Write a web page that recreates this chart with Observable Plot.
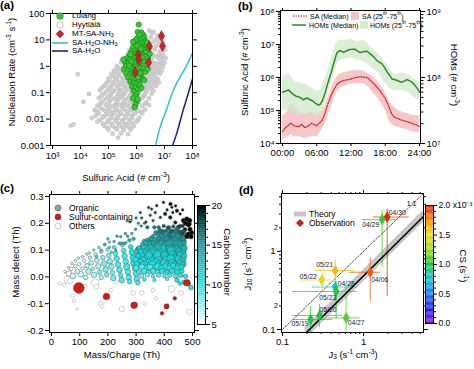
<!DOCTYPE html>
<html>
<head>
<meta charset="utf-8">
<script src="https://cdn.jsdelivr.net/npm/d3@7"></script>
<script src="https://cdn.jsdelivr.net/npm/@observablehq/plot@0.6"></script>
<style>
html,body{margin:0;padding:0;background:#fff;}
#root{position:relative;width:474px;height:369px;overflow:hidden;background:#fff;font-family:"Liberation Sans",Arial,Helvetica,sans-serif;color:#000;}
.p{position:absolute;line-height:0;}
.t{position:absolute;white-space:nowrap;line-height:1;}
.c{transform:translate(-50%,-50%);}
.l{transform:translate(0,-50%);}
.rl{transform:translate(-50%,-50%) rotate(-90deg);}
.rr{transform:translate(-50%,-50%) rotate(90deg);}
.tag{position:absolute;font-weight:bold;font-size:11.5px;line-height:1;}
.sw{position:absolute;line-height:0;}
sup{font-size:70%;vertical-align:super;line-height:0;}
sub{font-size:68%;vertical-align:-0.18em;line-height:0;}
</style>
</head>
<body>
<div id="root"></div>
<script>
// ---------------- DATA ----------------
// (a) Nucleation rate vs sulfuric acid
const aXTicks = [1e3, 1e4, 1e5, 1e6, 1e7, 1e8];
const aYTicks = [0.001, 0.01, 0.1, 1, 10, 100];
const aYTickLabels = ["0.001", "0.01", "0.1", "1", "10", "100"];
const hyytiala = [
[2.8e6,23],[4e6,20],[2e6,15],[3.5e6,17.5],[5.6e6,14.5],
[1.8e6,11],[3.2e6,12.5],[5e6,10],[7e6,11.5],
[1e6,8.2],[2.2e6,7.4],[4e6,8.6],[6.3e6,7.8],[8.9e6,8.1],
[7e5,5.4],[2e6,6.1],[3.2e6,5.1],[5e6,5.9],[8e6,5.3],
[5.6e5,4.1],[1.8e6,4.3],[2.8e6,3.7],[4.5e6,4.2],[7e6,3.8],[1e7,4.1],
[5e5,2.9],[2.2e6,2.35],[3.5e6,2.45],[5.6e6,2.3],[8e6,2.5],
[2e6,2.7],[3.2e6,3],[4e6,2.6],[6.3e6,2.85],[8.9e6,2.7],
[4e5,2.05],[1.8e6,1.85],[2.5e6,2.15],[3.5e6,1.95],[5.6e6,2.1],[8e6,1.85],[1.1e7,2.05],
[2.8e5,1.42],[1.6e6,1.33],[2.5e6,1.48],[4e6,1.38],[5e6,1.28],[7e6,1.5],[1e7,1.36],
[2e6,1.2],[2.8e6,1.12],[4e6,1.24],[5.6e6,1.16],[8e6,1.22],
[2e5,1.02],[3.2e5,0.93],[1.8e6,1.06],[2.2e6,0.94],[3.2e6,1.01],[4.5e6,0.96],[6.3e6,1.04],[8.9e6,0.98],
[2.2e5,0.85],[4e5,0.79],[2e6,0.87],[2.8e6,0.81],[4e6,0.86],[6.3e6,0.82],
[1.6e5,0.7],[2.8e5,0.73],[5e5,0.67],[1.6e6,0.71],[2.5e6,0.74],[3.5e6,0.68],[5e6,0.72],[8e6,0.69],
[1.8e5,0.6],[3.2e5,0.63],[6.3e5,0.57],[1.8e6,0.61],[2.8e6,0.58],[4e6,0.62],[6.3e6,0.59],
[7.9e3,0.5],[1.26e5,0.51],[2.2e5,0.53],[4e5,0.47],[1.26e6,0.5],[2e6,0.52],[3.2e6,0.48],[4.5e6,0.51],[7e6,0.53],
[1.4e5,0.42],[2.5e5,0.44],[4.5e5,0.4],[9e5,0.43],[1.8e6,0.44],[2.8e6,0.4],[4.5e6,0.42],
[1e5,0.35],[1.8e5,0.37],[3.2e5,0.34],[5.6e5,0.36],[1.4e6,0.35],[2.2e6,0.33],[3.5e6,0.37],[5.6e6,0.34],
[1.1e5,0.3],[2e5,0.31],[3.5e5,0.28],[6.3e5,0.3],[1.1e6,0.31],[2e6,0.28],[3.2e6,0.3],[5e6,0.29],
[9e4,0.25],[1.6e5,0.26],[2.5e5,0.24],[4.5e5,0.25],[8e5,0.26],[1.6e6,0.24],[2.5e6,0.25],[4e6,0.26],[6.3e6,0.245],
[8e4,0.21],[1.4e5,0.22],[2.8e5,0.2],[5e5,0.21],[1e6,0.22],[1.8e6,0.2],[2.8e6,0.21],[4.5e6,0.215],
[7e4,0.18],[1.26e5,0.172],[2e5,0.183],[3.5e5,0.187],[6.3e5,0.178],[1.1e6,0.172],[2e6,0.183],[3.2e6,0.188],[5e6,0.178],
[5.6e4,0.15],[1.1e5,0.157],[2.2e5,0.144],[4e5,0.152],[7e5,0.158],[1.26e6,0.143],[2.2e6,0.151],[3.5e6,0.148],
[5e4,0.125],[1e5,0.132],[1.6e5,0.12],[2.8e5,0.127],[5e5,0.133],[9e5,0.12],[1.4e6,0.126],[2.5e6,0.131],[4e6,0.12],
[8e4,0.106],[1.4e5,0.111],[2.5e5,0.101],[4e5,0.107],[7e5,0.112],[1.26e6,0.102],[2.2e6,0.108],
[2e4,0.09],[6.3e4,0.087],[1.26e5,0.093],[2.2e5,0.089],[3.5e5,0.086],[6.3e5,0.091],[1.1e6,0.094],[2e6,0.088],[3.5e6,0.091],
[5.6e4,0.075],[1.1e5,0.079],[2e5,0.072],[3.2e5,0.077],[5.6e5,0.073],[1e6,0.078],[1.8e6,0.074],
[4.5e4,0.063],[9e4,0.066],[1.6e5,0.06],[2.8e5,0.065],[5e5,0.061],[8e5,0.066],[1.6e6,0.062],[2.8e6,0.061],
[7e4,0.053],[1.26e5,0.056],[2.2e5,0.051],[4e5,0.055],[7e5,0.051],[1.26e6,0.055],
[1.26e4,0.045],[5.6e4,0.043],[1.1e5,0.047],[2e5,0.045],[3.5e5,0.043],[6.3e5,0.047],[1.26e6,0.045],[2.2e6,0.043],
[5e4,0.038],[1e5,0.04],[1.8e5,0.036],[3.2e5,0.038],[5.6e5,0.04],[1e6,0.036],[2e6,0.038],
[4e4,0.032],[8e4,0.034],[1.4e5,0.031],[2.5e5,0.033],[4.5e5,0.034],[8e5,0.031],[1.6e6,0.032],[2.8e6,0.034],
[5e4,0.027],[1e5,0.028],[1.8e5,0.026],[3.2e5,0.027],[5.6e5,0.029],[1e6,0.026],
[3.2e4,0.022],[6.3e4,0.023],[1.1e5,0.021],[2e5,0.022],[3.5e5,0.024],[6.3e5,0.022],[1.1e6,0.021],[2e6,0.023],
[4e4,0.019],[8e4,0.0197],[1.4e5,0.0183],[2.5e5,0.019],[4.5e5,0.0198],[8e5,0.0184],[1.4e6,0.019],
[4.5e4,0.016],[9e4,0.0152],[1.6e5,0.0168],[2.8e5,0.016],[5e5,0.0153],[9e5,0.0162],[1.6e6,0.0167],
[3.5e4,0.0133],[7e4,0.0129],[1.26e5,0.0137],[2.2e5,0.0131],[4e5,0.0135],[7e5,0.013],
[2.5e4,0.011],[6.3e4,0.0116],[1.26e5,0.0109],[2.2e5,0.0107],[4e5,0.0113],[7e5,0.011],[1.26e6,0.0114],
[5e4,0.0094],[1e5,0.0091],[1.8e5,0.0097],[3.2e5,0.0092],[5.6e5,0.0096],[1.1e6,0.0092],
[4e4,0.008],[9e4,0.0077],[1.8e5,0.0083],[3.2e5,0.008],[5.6e5,0.0078],[1e6,0.0082],
[6.3e4,0.0067],[1.26e5,0.0065],[2.2e5,0.0069],[4e5,0.0066],[7e5,0.0068],
[4.5e3,0.0056],[5.6e3,0.0063],[7e4,0.0056],[1.4e5,0.0054],[2.5e5,0.0058],[4.5e5,0.0056],[8e5,0.0054],
[9e4,0.0047],[1.8e5,0.0046],[3.2e5,0.0048],[5.6e5,0.0047],
[1e5,0.004],[2e5,0.0041],[3.5e5,0.0039],[6.3e5,0.004],
[1.4e5,0.0028],[2.8e5,0.0029],[5e5,0.0027],[2.2e5,0.002]
];
const lulang = [
[1.2e6,38],[1.5e6,19],[1.7e6,16],[1.1e6,20],[1.35e6,14],[1.9e6,12.5],[1.6e6,11],[1.1e6,12],[1.3e6,9.5],[1e6,9],
[2.1e6,9],[1.8e6,8],[1.5e6,7.5],[1.2e6,7],[8.5e5,7.2],[2.3e6,6.5],[1.95e6,5.5],[1.6e6,5.2],[1.3e6,5.6],[1e6,5],
[7.5e5,5],[9e5,4],[1.2e6,4.2],[1.5e6,3.8],[1.8e6,4.3],[2.2e6,3.5],[6.5e5,3.6],[8e5,3],[1.1e6,3.1],[1.4e6,2.8],
[1.7e6,2.6],[5.5e5,2.5],[7e5,2.4],[9.5e5,2.2],[1.3e6,2.1],[2e6,2.3],[4.5e5,2],[6e5,1.8],[8e5,1.7],[1.1e6,1.6],
[1.5e6,1.7],[1.85e6,1.5],[4e5,1.4],[5.2e5,1.3],[7e5,1.2],[9e5,1.3],[1.2e6,1.2],[2.3e6,1.1],[4.2e5,1],[6e5,0.95],
[8e5,0.9],[1e6,1],[1.4e6,0.9],[1.7e6,0.85],[3.6e5,0.75],[5e5,0.7],[7e5,0.75],[9e5,0.7],[1.2e6,0.65],[1.6e6,0.6],
[2.1e6,0.62],[4.3e5,0.55],[6e5,0.5],[8e5,0.52],[1.1e6,0.45],[1.4e6,0.42],[5e5,0.38],[7e5,0.35],[9e5,0.32],[1.2e6,0.3],
[1.7e6,0.33],[6e5,0.26],[8e5,0.24],[1e6,0.22],[1.3e6,0.2],[7e5,0.17],[9e5,0.15],[1.1e6,0.13],[8e5,0.11],[1e6,0.09],
[9e5,0.072],[7.5e5,0.062],[1e6,0.045],[9e5,0.035],[8.5e5,0.028],[1.1e6,0.058],[1.25e6,0.9],[2.6e6,2],[2.5e6,0.8],[1.9e6,0.3],
[1.5e6,0.15],[3.4e5,1.8],[1.3e6,16],[9.5e5,10],[7.5e5,8.5],[1.05e6,6],[1.4e6,4.6],[6e5,2.9],[1.55e6,2.2],[1.25e6,1.45],
[6.5e5,1.5],[1.05e6,0.8],[1.35e6,0.55],[7.5e5,0.6],[1.15e6,0.38],[5.5e5,1.05],[3e6,3],[2.7e6,4.8],[2.4e6,8]
];
const mtSaNh3 = [[7.8e6,14],[2.9e6,5.8],[8.5e6,5.8],[1.15e6,2.7],[1.2e6,1.8],[2.7e6,1.4],[9e5,0.6]];
const saH2oNh3 = [[4.8e6,0.001],[5.3e6,0.0016],[7e6,0.005],[1.1e7,0.018],[1.6e7,0.06],[2.5e7,0.19],[3.5e7,0.38],[4.8e7,0.65],[7e7,1.4],[1e8,3.2]];
const saH2o = [[1.95e7,0.001],[3e7,0.004],[4.4e7,0.018],[6.5e7,0.07],[1e8,0.33]];

// (b) diurnal cycles
const bXTicks = [0, 6, 12, 18, 24];
const bSATicks = [1e4, 1e5, 1e6, 1e7, 1e8];
const bHomTicks = [1e7, 1e8, 1e9];
const bHomMinorLabeled = [2e7, 4e7, 6e7, 8e7, 2e8, 4e8, 6e8, 8e8];
const bHomMinorOther = [3e7, 5e7, 7e7, 9e7, 3e8, 5e8, 7e8, 9e8];
const saHours = [0,0.5,1,1.4,1.9,2.4,2.8,3.4,3.8,4.3,4.7,5.1,5.6,6.0,6.6,7.0,7.5,8.0,8.5,9.0,9.5,10.0,10.5,11.0,11.9,12.7,13.6,14.3,14.8,15.2,15.65,16.1,16.5,17.0,17.4,17.9,18.3,18.8,19.2,19.6,20.0,20.5,20.9,21.4,21.8,22.3,22.7,23.1,23.5,24];
const saMedian = [2.3e4,3.0e4,3.5e4,4.1e4,3.6e4,3.3e4,3.2e4,3.8e4,3.1e4,3.2e4,3.6e4,4.1e4,3.7e4,3.5e4,4.4e4,5.2e4,8.9e4,1.66e5,2.8e5,4.3e5,6.0e5,7.2e5,7.9e5,8.3e5,8.9e5,9.8e5,1.05e6,1.02e6,1.0e6,8.9e5,7.4e5,6.3e5,5.2e5,4.2e5,3.3e5,2.5e5,1.8e5,1.12e5,7.6e4,6.3e4,5.8e4,5.4e4,5.1e4,4.8e4,4.6e4,4.3e4,4.1e4,3.8e4,3.6e4,3.3e4];
const bandHours = [0,1,1.5,2,3,4,5,6,6.5,7,7.5,8,8.5,9,9.5,10,11,12,13,14,15,16,17,18,19,20,21,22,23,24];
const saP25 = [1.26e4,1.6e4,1.8e4,1.6e4,1.6e4,1.4e4,1.6e4,1.6e4,2e4,2.8e4,4e4,7e4,1.26e5,2.2e5,3.5e5,4.5e5,5.6e5,6.3e5,6.6e5,6.6e5,5.2e5,3.2e5,2e5,1e5,4e4,3.2e4,2.8e4,2.5e4,2.2e4,2.2e4];
const saP75 = [7e4,1e5,1.6e5,1.4e5,8.9e4,8e4,8.9e4,8e4,8.9e4,1e5,1.4e5,2.5e5,4.5e5,7e5,1e6,1.26e6,1.4e6,1.6e6,1.66e6,1.6e6,1.3e6,1e6,6.3e5,3.5e5,1.6e5,1.1e5,8.9e4,8e4,7e4,7e4];
const homHours = [0,0.5,1.05,1.5,1.93,2.4,2.8,3.2,3.68,4.26,4.85,5.3,5.72,6.31,6.7,7.0,7.5,8.0,8.5,9.0,9.5,10.1,10.7,11.6,12.2,12.7,13.2,13.6,14.2,14.8,15.2,15.65,16.1,16.5,17.0,17.4,17.9,18.3,18.8,19.2,20.0,20.5,20.9,21.4,21.8,22.3,22.7,23.2,23.8,24];
const homMedian = [6.0e7,6.2e7,6.5e7,5.9e7,5.5e7,5.2e7,5.1e7,4.9e7,4.6e7,4.9e7,4.6e7,4.4e7,4.1e7,3.8e7,4.0e7,4.5e7,6.0e7,8.5e7,1.17e8,1.66e8,2.34e8,2.57e8,2.4e8,2.63e8,2.69e8,2.69e8,2.5e8,2.4e8,2.45e8,2.5e8,2.34e8,2.19e8,2.0e8,1.82e8,1.7e8,1.62e8,1.41e8,1.23e8,1.07e8,9.5e7,9.1e7,8.7e7,8.5e7,8.9e7,9.3e7,8.9e7,8.5e7,7.6e7,6.5e7,6.0e7];
const homP25 = [3.2e7,3.2e7,3e7,2.8e7,2.6e7,2.8e7,2.8e7,2.5e7,2.6e7,2.95e7,4e7,5.6e7,7.9e7,1.12e8,1.5e8,1.78e8,1.9e8,2e8,1.82e8,1.78e8,1.58e8,1.32e8,1.12e8,8.3e7,6.6e7,6.3e7,6.3e7,6e7,5e7,4.5e7];
const homP75 = [1e8,1.12e8,1.05e8,8.9e7,8.3e7,7.9e7,7.1e7,6.3e7,6.3e7,7.6e7,1e8,1.32e8,1.86e8,2.63e8,3.4e8,3.7e8,3.7e8,3.8e8,3.5e8,3.6e8,3.2e8,2.6e8,2.2e8,1.7e8,1.26e8,1.12e8,1.17e8,1.12e8,9.5e7,8.3e7];

// (c) mass defect plot: [m/z, mass defect, carbon number, intensity]
const cXTicks = [0, 100, 200, 300, 400, 500];
const cYTicks = [-0.2, -0.1, 0, 0.1, 0.2, 0.3];
const cBarTicks = [5, 10, 15, 20];
const organic = [
[62,0.012,5,4],[70,0.03,5,2],[76,0.004,6,4],[84,0.04,6,2],[92,0.02,6,3],[99,0.048,6,2],[104,0.01,6,4],[110,0.032,6,2],[116,0.06,6,2],[121,-0.002,6,3],
[126,0.042,7,3],[131,0.02,7,4],[136,0.072,7,2],[141,0.052,7,3],[146,0.03,7,2],[151,0.008,7,4],[156,0.084,7,2],[161,0.062,7,3],[166,0.04,7,4],[171,0.018,8,3],
[176,-0.002,7,3],[177,0.094,8,2],[182,0.072,8,3],[187,0.05,8,4],[192,0.028,8,4],[196,0.008,8,3],[199,0.102,8,2],[203,0.08,8,3],[207,0.058,8,4],[212,0.038,8,4],
[216,0.016,8,3],[219,-0.004,8,4],[222,0.11,9,2],[227,0.088,9,3],[231,0.068,9,4],[236,0.046,9,4],[241,0.026,9,4],[245,0.006,9,3],[249,-0.012,9,4],[252,0.118,9,2],
[256,0.098,9,3],[259,0.078,9,4],[263,0.058,9,4],[267,0.038,9,5],[271,0.018,9,4],[274,-0.002,9,4],[277,-0.018,9,3],[281,0.112,10,3],[285,0.092,10,4],[288,0.072,10,4],
[292,0.052,10,5],[296,0.032,9,4],[299,0.012,9,4],[302,-0.008,9,4],[306,-0.022,9,3],
[85,0.06,6,1],[110,0.075,7,1],[135,0.09,7,1],[150,0.1,8,1],[168,0.11,8,1],[188,0.12,9,1],[205,0.13,9,1],[95,0.07,6,1],[125,0.085,7,1],[60,0.035,5,1],[72,0.05,6,1],[48,0.02,5,1],
[160,0.075,10,1],[176,0.1,10,1],[190,0.122,11,1],[200,0.142,11,1],[212,0.092,10,1],[222,0.132,12,1],[232,0.152,12,1],[240,0.125,12,1],[246,0.125,12,1],[252,0.126,12,1],
[258,0.125,12,1],[264,0.127,12,1],[270,0.152,13,1],[276,0.137,13,2],[285,0.162,13,1],[291,0.142,13,2],[262,0.162,14,1],[268,0.21,15,1],[278,0.205,15,1],[298,0.178,14,1],
[308,0.2,15,1],[318,0.19,15,1],[300,0.22,16,1],[315,0.24,17,1],[330,0.2,16,1],[245,0.15,13,1],[228,0.1,11,1],[205,0.11,10,1],
[380,0.185,16,2],[398,0.19,17,2],[415,0.183,17,3],[432,0.188,17,2],[450,0.185,17,3],[465,0.19,18,2],
[395,0.168,16,3],[409,0.174,16,2],[427,0.17,17,3],[444,0.176,16,3],[459,0.168,17,2],[470,0.172,16,3],
[370,0.165,15,3],[386,0.17,16,4],[402,0.167,16,3],[423,0.162,16,4],[438,0.167,16,3],[455,0.163,16,4],[468,0.16,16,3],
[360,0.152,15,2],[377,0.158,15,3],[391,0.154,15,4],[404,0.16,15,3],[418,0.153,16,4],[432,0.158,15,3],[447,0.152,15,4],[461,0.157,16,3],
[340,0.138,14,2],[352,0.143,14,3],[366,0.137,14,4],[380,0.142,15,3],[395,0.139,14,5],[409,0.143,15,4],[424,0.137,14,5],[438,0.142,15,4],[452,0.138,15,5],[466,0.143,15,3],
[330,0.133,13,3],[345,0.131,14,4],[358,0.135,14,5],[372,0.132,14,6],[386,0.135,14,5],[400,0.131,14,6],[414,0.134,14,6],[428,0.131,14,5],[442,0.135,15,6],[455,0.131,15,5],[468,0.134,15,4],
[322,0.123,13,2],[335,0.128,13,3],[348,0.122,13,4],[362,0.127,14,3],[375,0.124,13,5],[388,0.128,14,4],[402,0.121,13,6],[415,0.127,14,5],[430,0.123,14,6],[444,0.128,14,5],[457,0.122,14,4],[470,0.126,14,3],
[310,0.108,12,3],[324,0.113,12,4],[338,0.107,12,5],[351,0.112,13,4],[365,0.108,12,6],[378,0.113,13,5],[392,0.107,12,6],[405,0.112,13,7],[419,0.108,13,6],[433,0.113,13,7],[447,0.107,13,5],[461,0.112,13,5],[472,0.108,13,4],
[307,0.101,12,4],[321,0.104,12,5],[335,0.1,12,6],[349,0.103,12,7],[363,0.1,12,6],[377,0.104,12,8],[390,0.1,12,7],[404,0.103,12,8],[418,0.1,13,7],[431,0.104,13,8],[445,0.1,13,6],[459,0.103,13,6],
[300,0.094,12,3],[314,0.098,11,4],[328,0.092,12,5],[342,0.097,11,6],[356,0.093,12,5],[370,0.098,11,7],[383,0.092,12,6],[397,0.097,12,7],[410,0.093,12,8],[424,0.098,12,6],[438,0.093,12,7],[452,0.097,13,5],[466,0.093,13,5],
[305,0.078,11,4],[318,0.083,11,5],[332,0.077,11,6],[346,0.082,11,5],[360,0.078,11,7],[374,0.083,11,6],[388,0.077,11,7],[401,0.082,12,6],[415,0.078,12,7],[429,0.083,12,6],[443,0.077,12,6],[457,0.082,12,5],[470,0.078,12,4],
[304,0.071,11,5],[318,0.073,11,6],[331,0.07,11,7],[345,0.074,11,7],[359,0.07,11,8],[373,0.073,11,7],[386,0.07,11,8],[400,0.074,11,7],[414,0.07,11,8],[428,0.073,12,7],[442,0.07,12,6],[456,0.073,12,6],
[298,0.063,10,4],[311,0.068,10,5],[325,0.062,11,5],[339,0.067,10,6],[352,0.063,11,6],[366,0.068,10,7],[380,0.062,11,6],[394,0.067,11,7],[408,0.063,11,6],[422,0.068,11,6],[436,0.062,11,7],[450,0.067,11,5],[464,0.063,12,5],
[303,0.048,10,4],[316,0.053,10,5],[330,0.047,10,5],[344,0.052,10,6],[357,0.048,10,5],[371,0.053,10,6],[385,0.047,10,6],[399,0.052,10,5],[413,0.048,11,6],[427,0.053,11,5],[441,0.047,11,5],[455,0.052,11,4],[468,0.048,11,4],
[309,0.042,10,5],[323,0.044,10,5],[338,0.041,10,6],[352,0.044,10,6],[366,0.041,10,6],[380,0.044,10,6],[394,0.041,10,6],[408,0.044,10,5],[422,0.041,10,5],[436,0.044,11,5],[450,0.041,11,4],[464,0.044,11,4],
[300,0.033,9,4],[320,0.038,9,4],[335,0.032,10,5],[349,0.037,9,4],[362,0.033,10,5],[376,0.038,10,5],[390,0.032,10,4],[404,0.037,10,5],[418,0.033,10,4],[432,0.038,10,5],[446,0.032,10,4],[460,0.037,11,4],
[310,0.018,9,3],[328,0.022,9,4],[345,0.017,9,3],[360,0.022,9,4],[375,0.018,9,3],[392,0.022,10,4],[410,0.017,10,3],[428,0.022,10,4],[445,0.018,10,3],[462,0.021,10,3],
[320,0.004,8,3],[340,0.008,8,3],[360,0.003,9,2],[380,0.007,9,3],[400,0.003,9,2],[420,0.007,9,3],[440,0.003,9,3],[458,0.006,10,3],[475,0.002,10,3],
[330,-0.01,9,2],[365,-0.012,9,2],[410,-0.008,9,2],[445,-0.012,10,3],[470,-0.02,10,3],[485,-0.025,11,3],[495,-0.04,10,3],[455,-0.025,10,2],
[344,0.259,18,1],[355,0.253,18,1],[368,0.24,18,1],[373,0.266,19,1],[386,0.222,18,1],[397,0.278,19,1],[403,0.235,19,2],[421,0.222,19,2],[422,0.272,20,2],[427,0.26,19,1],
[439,0.203,19,2],[445,0.247,20,2],[456,0.235,20,1],[456,0.19,18,2],[468,0.21,20,3],[474,0.178,19,2],[480,0.216,20,3],[486,0.197,20,4],[491,0.178,20,3],[462,0.165,18,3],
[486,0.16,20,3],[497,0.165,20,3],[480,0.153,20,4],[495,0.15,20,3],[490,0.21,20,3],[475,0.2,20,3],[430,0.24,19,1],[410,0.25,19,1],[350,0.23,17,1],[360,0.21,17,1],
[335,0.205,17,1],[320,0.22,17,1],[340,0.185,16,2],[365,0.185,16,2],[440,0.265,20,1],[465,0.25,20,1]
];
const sulfur = [[97,-0.041,9],[195,-0.073,5],[293,-0.106,5],[480,-0.022,5],[408,-0.11,3.5],[437,-0.08,2],[392,-0.136,2]];
const others = [[30,-0.025,2],[58,-0.01,6],[66,-0.016,4],[75,-0.07,2],[80,-0.09,2],[100,-0.06,1],[155,-0.022,6],[160,-0.036,3],[175,-0.1,3],[180,-0.11,2],
[210,-0.05,2],[250,-0.12,4],[290,-0.06,3],[300,-0.1,2],[320,-0.06,3],[330,-0.1,2],[360,-0.05,2],[370,-0.08,2],[425,-0.045,5],[460,-0.06,3],[490,-0.13,4],[230,-0.02,2],[120,-0.035,2],[90,-0.12,1],[45,-0.03,2]];

// (d) J10 vs J3
const dMajorTicks = [0.1, 1];
const dXMinorLabeled = [0.2, 0.3, 0.4, 0.5, 0.6, 2, 3, 4, 5];
const dXMinorOther = [0.7, 0.8, 0.9];
const dYMinorLabeled = [0.2, 0.4, 0.6, 0.8, 2, 4];
const dYMinorOther = [0.3, 0.5, 0.7, 0.9, 3, 5];
const dBarTicks = [0, 0.5, 1, 1.5, 2];
const obsDate = ["04/30","04/29","04/06","05/21","05/22","04/28","05/23","05/20","05/19","04/27"];
const obsJ3   = [1.96, 1.70, 1.21, 0.447, 0.306, 0.447, 0.46, 0.286, 0.222, 0.61];
const obsJ3Lo = [1.3, 0.95, 0.67, 0.25, 0.16, 0.23, 0.13, 0.13, 0.13, 0.31];
const obsJ3Hi = [3.6, 2.5, 1.6, 0.77, 0.41, 0.84, 0.82, 0.55, 0.41, 0.89];
const obsJ10   = [2.75, 2.55, 0.54, 0.57, 0.43, 0.35, 0.307, 0.151, 0.134, 0.141];
const obsJ10Lo = [0.27, 0.64, 0.23, 0.4, 0.32, 0.235, 0.14, 0.107, 0.09, 0.09];
const obsJ10Hi = [3.5, 3.4, 0.84, 0.81, 0.54, 0.42, 0.42, 0.214, 0.2, 0.35];
const obsCS    = [1.95, 1.05, 1.85, 1.6, 1.45, 0.8, 1.0, 1.0, 1.0, 1.1]; // x10^-3 s^-1
const theoryJ3 = [0.19, 5.5];
const theoryJ10 = [0.088, 2.8];
const theoryLo = [0.074, 2.35];
const theoryHi = [0.105, 3.35];
const oneToOne = [0.1, 5.5];

// ---------------- HELPERS ----------------
const root = document.getElementById("root");
const FONT = '"Liberation Sans", Arial, Helvetica, sans-serif';
const STYLE = {fontFamily: FONT, fontSize: "9px", background: "transparent", overflow: "visible", color: "#000"};
const SUP = {"-":"⁻","0":"⁰","1":"¹","2":"²","3":"³","4":"⁴","5":"⁵","6":"⁶","7":"⁷","8":"⁸","9":"⁹"};
const pow10 = d => "10" + String(Math.round(Math.log10(d))).split("").map(c => SUP[c]).join("");
function logMinor(lo, hi) {
  const out = [];
  for (let p = Math.log10(lo); p < Math.log10(hi) - 1e-9; p++) for (let m = 2; m <= 9; m++) out.push(m * Math.pow(10, p));
  return out;
}
function mount(node, left, top) {
  const d = document.createElement("div");
  d.className = "p"; d.style.left = left + "px"; d.style.top = top + "px";
  d.appendChild(node); root.appendChild(d);
}
function text(html, x, y, cls, size) {
  const d = document.createElement("div");
  d.className = "t " + cls; d.innerHTML = html;
  d.style.left = x + "px"; d.style.top = y + "px"; d.style.fontSize = size + "px";
  root.appendChild(d); return d;
}
function swatch(inner, cx, cy, w = 16, h = 10) {
  const d = document.createElement("div");
  d.className = "sw"; d.style.left = (cx - w / 2) + "px"; d.style.top = (cy - h / 2) + "px";
  d.innerHTML = `<svg width="${w}" height="${h}" viewBox="0 0 ${w} ${h}">${inner}</svg>`;
  root.appendChild(d);
}
function tag(s, x, y) {
  const d = document.createElement("div");
  d.className = "tag"; d.textContent = s; d.style.left = x + "px"; d.style.top = y + "px";
  root.appendChild(d);
}
const X = d => d[0], Y = d => d[1];

// ---------------- PANEL (a) ----------------
const pA = Plot.plot({
  width: 237, height: 185, marginLeft: 50, marginRight: 45, marginTop: 13, marginBottom: 40,
  style: STYLE,
  x: {type: "log", domain: [1e3, 1e8], insetLeft: 2},
  y: {type: "log", domain: [1e-3, 1e2]},
  marks: [
    Plot.dot(hyytiala, {x: X, y: Y, r: 2.1, fill: "#d0d0d0", stroke: "#b8b8b8", strokeWidth: 0.5}),
    Plot.line(saH2oNh3, {x: X, y: Y, stroke: "#2fc4c4", strokeWidth: 1.5, curve: "monotone-x"}),
    Plot.line(saH2o, {x: X, y: Y, stroke: "#1d1d8c", strokeWidth: 1.5, curve: "monotone-x"}),
    Plot.dot(lulang, {x: X, y: Y, r: 2.7, fill: "#35c935", stroke: "#1b7d1b", strokeWidth: 0.6}),
    Plot.dot(mtSaNh3, {x: X, y: Y, symbol: "diamond", r: 3.3, fill: "#c1272d", stroke: "#8e1b1f", strokeWidth: 0.5}),
    Plot.frame({stroke: "#000"}),
    Plot.axisX(aXTicks, {anchor: "bottom", tickSize: 4, tickPadding: 3, tickFormat: pow10, fontSize: 9.5, label: null}),
    Plot.axisX(aXTicks, {anchor: "top", tickSize: 4, fill: "none", label: null}),
    Plot.axisY(aYTicks, {anchor: "left", tickSize: 4, tickPadding: 2, tickFormat: d => aYTickLabels[aYTicks.indexOf(d)], fontSize: 9.5, label: null}),
    Plot.axisY(aYTicks, {anchor: "right", tickSize: 4, fill: "none", label: null})
  ]
});
mount(pA, 0, 0);

// ---------------- PANEL (b) ----------------
const saMed = saHours.map((h, i) => ({h, v: saMedian[i]}));
const saBand = bandHours.map((h, i) => ({h, lo: saP25[i], hi: saP75[i]}));
const homMed = homHours.map((h, i) => ({h, v: homMedian[i]}));
const homBand = bandHours.map((h, i) => ({h, lo: homP25[i], hi: homP75[i]}));
const bDims = {width: 237, height: 185, marginLeft: 43, marginRight: 54, marginTop: 10, marginBottom: 42, style: STYLE};
const pB1 = Plot.plot({
  ...bDims,
  x: {domain: [0, 24], insetLeft: 2, insetRight: 1},
  y: {type: "log", domain: [1e4, 1e8], insetTop: 1},
  marks: [
    Plot.areaY(saBand, {x: "h", y1: "lo", y2: "hi", fill: "#f6c2c2", fillOpacity: 0.9, curve: "monotone-x"}),
    Plot.line(saMed, {x: "h", y: "v", stroke: "#d2232a", strokeWidth: 1.3, strokeDasharray: "1.2,1.4"}),
    Plot.frame({stroke: "#000"}),
    Plot.axisX(bXTicks, {anchor: "bottom", tickSize: 3, tickPadding: 3, tickFormat: d => String(d).padStart(2, "0") + ":00", fontSize: 9.5, label: null}),
    Plot.axisX(bXTicks, {anchor: "top", tickSize: 3, fill: "none", label: null}),
    Plot.axisY(bSATicks, {anchor: "left", tickSize: 4, tickPadding: 2, tickFormat: pow10, fontSize: 9.5, label: null}),
    Plot.axisY(logMinor(1e4, 1e8), {anchor: "left", tickSize: 2, fill: "none", label: null})
  ]
});
mount(pB1, 237, 0);
const pB2 = Plot.plot({
  ...bDims,
  x: {domain: [0, 24], insetLeft: 2, insetRight: 1, axis: null},
  y: {type: "log", domain: [1e7, 1e9], insetTop: 1},
  marks: [
    Plot.areaY(homBand, {x: "h", y1: "lo", y2: "hi", fill: "#cde8c6", fillOpacity: 0.72, curve: "monotone-x"}),
    Plot.line(homMed, {x: "h", y: "v", stroke: "#2b8a2b", strokeWidth: 1.5}),
    Plot.axisY(bHomTicks, {anchor: "right", tickSize: 4, tickPadding: 2, tickFormat: pow10, fontSize: 9.5, label: null}),
    Plot.axisY(bHomMinorLabeled, {anchor: "right", tickSize: 2.5, tickPadding: 1.5, tickFormat: d => String(Math.round(d / Math.pow(10, Math.floor(Math.log10(d))))), fontSize: 7, label: null}),
    Plot.axisY(bHomMinorOther, {anchor: "right", tickSize: 2.5, fill: "none", label: null})
  ]
});
mount(pB2, 237, 0);

// ---------------- PANEL (c) ----------------
const cColor = {type: "linear", domain: [5, 10, 15, 20], range: ["#ffffff", "#1ae6e6", "#189a9a", "#000000"]};
const rScale = {type: "linear", domain: [1, 8], range: [1.3, 4.8]};
const pC = Plot.plot({
  width: 200, height: 189, marginLeft: 49, marginRight: 6, marginTop: 14, marginBottom: 37,
  style: STYLE,
  x: {domain: [0, 500], inset: 2},
  y: {domain: [-0.2, 0.3], inset: 2},
  color: cColor, r: rScale,
  marks: [
    Plot.dot(others, {x: X, y: Y, r: d => d[2], fill: "#ffffff", stroke: "#c4c4c4", strokeWidth: 0.8}),
    Plot.dot(organic, {x: X, y: Y, r: d => d[3], fill: d => d[2], stroke: "#4e4e4e", strokeOpacity: 0.85, strokeWidth: 0.55}),
    Plot.dot(sulfur, {x: X, y: Y, r: d => d[2], fill: "#c81e1e", stroke: "#8a1010", strokeWidth: 0.5}),
    Plot.frame({stroke: "#000"}),
    Plot.axisX(cXTicks, {anchor: "bottom", tickSize: 4, tickPadding: 2, fontSize: 9.5, label: null}),
    Plot.axisX(cXTicks, {anchor: "top", tickSize: 4, fill: "none", label: null}),
    Plot.axisY(cYTicks, {anchor: "left", tickSize: 4, tickPadding: 2, tickFormat: d => d.toFixed(1), fontSize: 9.5, label: null}),
    Plot.axisY(cYTicks, {anchor: "right", tickSize: 4, fill: "none", label: null})
  ]
});
mount(pC, 0, 180);

const cRamp = d3.range(5, 20, 0.25);
const pCBar = Plot.plot({
  width: 45, height: 140, marginLeft: 7, marginRight: 30, marginTop: 10, marginBottom: 11,
  style: STYLE,
  y: {domain: [5, 20]},
  color: cColor,
  marks: [
    Plot.rect(cRamp, {y1: d => d, y2: d => d + 0.25, fill: d => d}),
    Plot.frame({stroke: "#000"}),
    Plot.axisY(cBarTicks, {anchor: "right", tickSize: 4, tickPadding: 2, fontSize: 9.5, label: null}),
    Plot.axisY(d3.range(6, 20).filter(v => v % 5), {anchor: "right", tickSize: 2, fill: "none", label: null})
  ]
});
mount(pCBar, 190, 195);

// ---------------- PANEL (d) ----------------
const dColor = {type: "linear", domain: [0, 0.25, 0.5, 0.75, 1, 1.25, 1.5, 1.75, 2],
  range: ["#7418d8", "#2020f0", "#1a7ef0", "#10c4d8", "#22c43c", "#a4dc1c", "#eedc10", "#ff8a00", "#e01010"]};
const obs = obsDate.map((date, i) => ({date, j3: obsJ3[i], lo3: obsJ3Lo[i], hi3: obsJ3Hi[i], j10: obsJ10[i], lo10: obsJ10Lo[i], hi10: obsJ10Hi[i], cs: obsCS[i]}));
const theory = theoryJ3.map((j3, i) => ({j3, j10: theoryJ10[i], lo: theoryLo[i], hi: theoryHi[i]}));
const diag = oneToOne.map(v => ({v}));
const place = {
  "04/30": ["start", 1.5, -4.5], "04/29": ["end", -3, 5], "04/06": ["start", 1, 7.5], "05/21": ["end", -2, -5.5],
  "05/22": ["end", -5, -3], "04/28": ["start", 2.5, -3.5], "05/23": ["end", 0, 6], "05/20": ["start", 0, -6],
  "05/19": ["end", -2, 4.5], "04/27": ["start", 1.5, 5]
};
const minorFmt = d => d < 1 ? String(Math.round(d * 10)) : String(d);
const pD = Plot.plot({
  width: 190, height: 189, marginLeft: 44, marginRight: 4, marginTop: 13, marginBottom: 37,
  style: STYLE,
  x: {type: "log", domain: [0.1, 5.5], insetLeft: 1},
  y: {type: "log", domain: [0.1, 5.5], insetBottom: 3},
  color: dColor,
  marks: [
    Plot.areaY(theory, {x: "j3", y1: "lo", y2: "hi", fill: "#c6c6c6", clip: true}),
    Plot.line(diag, {x: "v", y: "v", stroke: "#000", strokeWidth: 0.7, strokeDasharray: "2,1.6", clip: true}),
    Plot.link(obs, {x1: "lo3", x2: "hi3", y1: "j10", y2: "j10", stroke: "cs", strokeWidth: 1.1, strokeOpacity: 0.7, clip: true}),
    Plot.link(obs, {x1: "j3", x2: "j3", y1: "lo10", y2: "hi10", stroke: "cs", strokeWidth: 1.1, strokeOpacity: 0.7, clip: true}),
    Plot.line(theory, {x: "j3", y: "j10", stroke: "#000", strokeWidth: 1.5, clip: true}),
    Plot.dot(obs, {x: "j3", y: "j10", fill: "cs", symbol: "diamond", r: 3.6}),
    ...obs.map(o => Plot.text([o], {x: "j3", y: "j10", text: "date", textAnchor: place[o.date][0], dx: place[o.date][1], dy: place[o.date][2], fontSize: 6.8, fill: "#222"})),
    Plot.text(["1:1"], {frameAnchor: "top-right", dx: -7, dy: 8, fontSize: 7}),
    Plot.frame({stroke: "#000"}),
    Plot.axisX(dMajorTicks, {anchor: "bottom", tickSize: 4, tickPadding: 2, tickFormat: d => String(d), fontSize: 9.5, label: null}),
    Plot.axisX(dXMinorLabeled, {anchor: "bottom", tickSize: 2, tickPadding: 1.5, tickFormat: minorFmt, fontSize: 7, label: null}),
    Plot.axisX(dXMinorOther, {anchor: "bottom", tickSize: 2, fill: "none", label: null}),
    Plot.axisX(dMajorTicks, {anchor: "top", tickSize: 4, fill: "none", label: null}),
    Plot.axisX([...dXMinorLabeled, ...dXMinorOther], {anchor: "top", tickSize: 2, fill: "none", label: null}),
    Plot.axisY(dMajorTicks, {anchor: "left", tickSize: 4, tickPadding: 2, tickFormat: d => String(d), fontSize: 9.5, label: null}),
    Plot.axisY(dYMinorLabeled, {anchor: "left", tickSize: 2, tickPadding: 1.5, tickFormat: minorFmt, fontSize: 7, label: null}),
    Plot.axisY(dYMinorOther, {anchor: "left", tickSize: 2, fill: "none", label: null}),
    Plot.axisY(dMajorTicks, {anchor: "right", tickSize: 4, fill: "none", label: null}),
    Plot.axisY([...dYMinorLabeled, ...dYMinorOther], {anchor: "right", tickSize: 2, fill: "none", label: null})
  ]
});
mount(pD, 237, 180);

const dRamp = d3.range(0, 2, 0.02);
const pDBar = Plot.plot({
  width: 54, height: 140, marginLeft: 5, marginRight: 41, marginTop: 10, marginBottom: 12,
  style: STYLE,
  y: {domain: [0, 2]},
  color: dColor,
  marks: [
    Plot.rect(dRamp, {y1: d => d, y2: d => d + 0.02, fill: d => d}),
    Plot.frame({stroke: "#000"}),
    Plot.axisY(dBarTicks, {anchor: "right", tickSize: 3, tickPadding: 2, tickFormat: d => d === 2 ? "2.0 x10⁻³" : d.toFixed(1), fontSize: 8.5, label: null}),
    Plot.axisY(d3.range(1, 20).filter(v => v % 5).map(v => v / 10), {anchor: "right", tickSize: 2, fill: "none", label: null})
  ]
});
mount(pDBar, 420, 195);

// ---------------- TITLES, TAGS, LEGENDS ----------------
tag("(a)", 0, 0); tag("(b)", 238, 1); tag("(c)", 0, 183); tag("(d)", 239, 185);

text("Nucleation Rate (cm<sup>-3</sup> s<sup>-1</sup>)", 12, 72, "rl", 9.5);
text("Sulfuric Acid (# cm<sup>-3</sup>)", 126, 178, "c", 9.5);
text("Sulfuric Acid (# cm<sup>-3</sup>)", 245, 72, "rl", 9.5);
text("HOMs (# cm<sup>-3</sup>)", 454, 75, "rr", 9.5);
text("Mass detect (Th)", 16, 262, "rl", 9.5);
text("Mass/Charge (Th)", 122, 355, "c", 9.5);
text("Carbon Number", 227, 262, "rr", 9.5);
text("J<sub>10</sub> (s<sup>-1</sup> cm<sup>-3</sup>)", 248, 264, "rl", 9.5);
text("J<sub>3</sub> (s<sup>-1</sup> cm<sup>-3</sup>)", 353, 355, "c", 9.5);
text("CS (s<sup>-1</sup>)", 463, 266, "rr", 9.5);

// legend (a)
swatch('<circle cx="8" cy="5" r="3.3" fill="#35c935" stroke="#1b7d1b" stroke-width="0.6"/>', 60, 16.4);
text("Lulang", 72, 16.4, "l", 8);
swatch('<circle cx="8" cy="5" r="3.1" fill="#fff" stroke="#bdbdbd" stroke-width="0.9"/>', 60, 25.1);
text("Hyytiälä", 72, 25.1, "l", 8);
swatch('<path d="M8,0.8 L12.2,5 L8,9.2 L3.8,5Z" fill="#c1272d"/>', 60, 33.8);
text("MT-SA-NH<sub>3</sub>", 72, 33.8, "l", 8);
swatch('<line x1="0" y1="5" x2="16" y2="5" stroke="#2fc4c4" stroke-width="1.6"/>', 60, 42.5);
text("SA-H<sub>2</sub>O-NH<sub>3</sub>", 72, 42.5, "l", 8);
swatch('<line x1="0" y1="5" x2="16" y2="5" stroke="#1d1d8c" stroke-width="1.6"/>', 60, 51.2);
text("SA-H<sub>2</sub>O", 72, 51.2, "l", 8);

// legend (b)
swatch('<line x1="0" y1="5" x2="14" y2="5" stroke="#d2232a" stroke-width="1.3" stroke-dasharray="1.2,1.4"/>', 300, 16, 14, 10);
text("SA (Median)", 310, 16, "l", 7);
swatch('<rect x="0" y="1" width="8" height="8" fill="#f6c2c2"/>', 355, 16, 8, 10);
text("SA (25<sup>th</sup>-75<sup>th</sup>)", 362, 16, "l", 7);
swatch('<line x1="0" y1="5" x2="14" y2="5" stroke="#2b8a2b" stroke-width="1.5"/>', 299, 25, 14, 10);
text("HOMs (Median)", 309, 25, "l", 7);
swatch('<rect x="0" y="1" width="8" height="8" fill="#d6ecd0"/>', 364, 25, 8, 10);
text("HOMs (25<sup>th</sup>-75<sup>th</sup>)", 370, 25, "l", 7);

// legend (c)
swatch('<circle cx="8" cy="5" r="3" fill="#9a9a9a" stroke="#555" stroke-width="0.6"/>', 58, 208);
text("Organic", 69, 208, "l", 8.5);
swatch('<circle cx="8" cy="5" r="3" fill="#c81e1e" stroke="#8a1010" stroke-width="0.5"/>', 58, 217);
text("Sulfur-containing", 69, 217, "l", 8.5);
swatch('<circle cx="8" cy="5" r="3" fill="#fff" stroke="#c4c4c4" stroke-width="0.9"/>', 58, 226);
text("Others", 69, 226, "l", 8.5);

// legend (d)
swatch('<line x1="1" y1="5" x2="13" y2="5" stroke="#c6c6c6" stroke-width="5"/>', 300, 214, 14, 10);
text("Theory", 309, 214, "l", 8.5);
swatch('<path d="M7,1 L11,5 L7,9 L3,5Z" fill="#d01818"/>', 300, 223, 14, 10);
text("Observation", 309, 223, "l", 8.5);
</script>
</body>
</html>
